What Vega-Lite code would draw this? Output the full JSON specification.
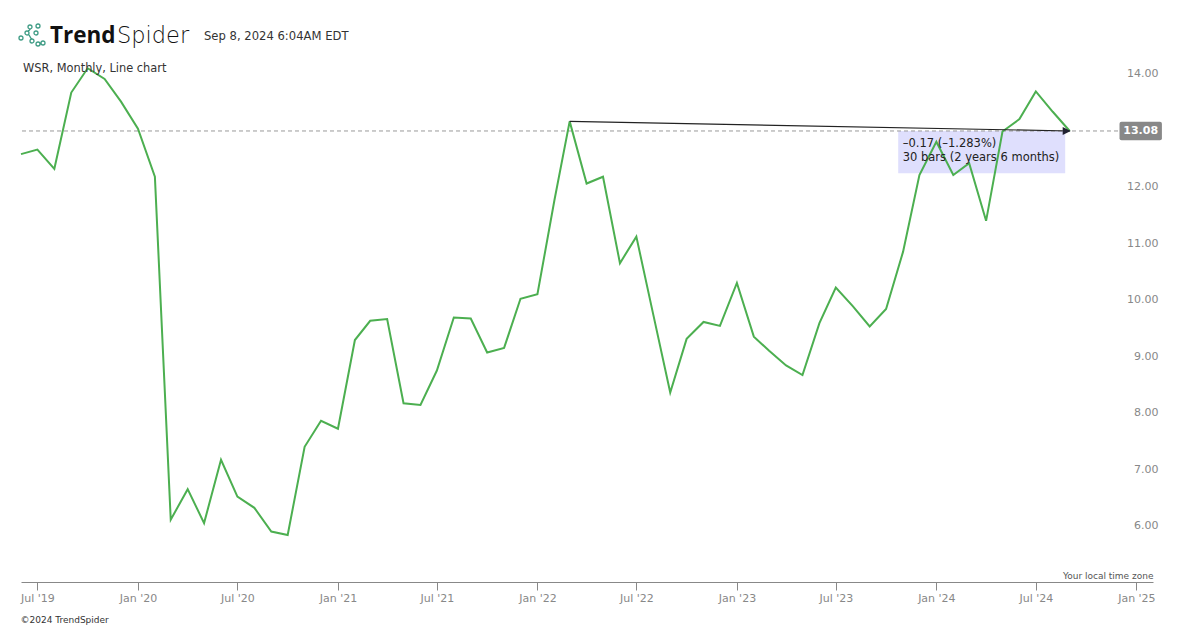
{
  "$schema": "https://vega.github.io/schema/vega-lite/v6.json",
  "width": 1132,
  "height": 582,
  "autosize": {"type": "none"},
  "padding": {"left": 21, "top": 0, "right": 30, "bottom": 47},
  "background": "white",
  "config": {"view": {"stroke": null}, "font": "DejaVu Sans"},
  "datasets": {
    "wsr": [
      {"date": "2019-06-01", "price": 12.67},
      {"date": "2019-07-01", "price": 12.75},
      {"date": "2019-08-01", "price": 12.41},
      {"date": "2019-09-01", "price": 13.76},
      {"date": "2019-10-01", "price": 14.19},
      {"date": "2019-11-01", "price": 14.00},
      {"date": "2019-12-01", "price": 13.60},
      {"date": "2020-01-01", "price": 13.12},
      {"date": "2020-02-01", "price": 12.27},
      {"date": "2020-03-01", "price": 6.20},
      {"date": "2020-04-01", "price": 6.74},
      {"date": "2020-05-01", "price": 6.14},
      {"date": "2020-06-01", "price": 7.26},
      {"date": "2020-07-01", "price": 6.61},
      {"date": "2020-08-01", "price": 6.41},
      {"date": "2020-09-01", "price": 5.99},
      {"date": "2020-10-01", "price": 5.93},
      {"date": "2020-11-01", "price": 7.49},
      {"date": "2020-12-01", "price": 7.95},
      {"date": "2021-01-01", "price": 7.81},
      {"date": "2021-02-01", "price": 9.38},
      {"date": "2021-03-01", "price": 9.72},
      {"date": "2021-04-01", "price": 9.75},
      {"date": "2021-05-01", "price": 8.26},
      {"date": "2021-06-01", "price": 8.23},
      {"date": "2021-07-01", "price": 8.84},
      {"date": "2021-08-01", "price": 9.78},
      {"date": "2021-09-01", "price": 9.76},
      {"date": "2021-10-01", "price": 9.16},
      {"date": "2021-11-01", "price": 9.24},
      {"date": "2021-12-01", "price": 10.11},
      {"date": "2022-01-01", "price": 10.19},
      {"date": "2022-02-01", "price": 11.85},
      {"date": "2022-03-01", "price": 13.25},
      {"date": "2022-04-01", "price": 12.15},
      {"date": "2022-05-01", "price": 12.27},
      {"date": "2022-06-01", "price": 10.74},
      {"date": "2022-07-01", "price": 11.21},
      {"date": "2022-08-01", "price": 9.83},
      {"date": "2022-09-01", "price": 8.45},
      {"date": "2022-10-01", "price": 9.40},
      {"date": "2022-11-01", "price": 9.70},
      {"date": "2022-12-01", "price": 9.63},
      {"date": "2023-01-01", "price": 10.39},
      {"date": "2023-02-01", "price": 9.44},
      {"date": "2023-03-01", "price": 9.19},
      {"date": "2023-04-01", "price": 8.93},
      {"date": "2023-05-01", "price": 8.76},
      {"date": "2023-06-01", "price": 9.68},
      {"date": "2023-07-01", "price": 10.31},
      {"date": "2023-08-01", "price": 9.98},
      {"date": "2023-09-01", "price": 9.62},
      {"date": "2023-10-01", "price": 9.93},
      {"date": "2023-11-01", "price": 10.94},
      {"date": "2023-12-01", "price": 12.30},
      {"date": "2024-01-01", "price": 12.89},
      {"date": "2024-02-01", "price": 12.30},
      {"date": "2024-03-01", "price": 12.51},
      {"date": "2024-04-01", "price": 11.49},
      {"date": "2024-05-01", "price": 13.07},
      {"date": "2024-06-01", "price": 13.29},
      {"date": "2024-07-01", "price": 13.78},
      {"date": "2024-08-01", "price": 13.42},
      {"date": "2024-09-01", "price": 13.08}
    ],
    "measure": [
      {"date": "2022-03-01", "price": 13.25},
      {"date": "2024-09-01", "price": 13.08}
    ],
    "last": [
      {"date": "2024-09-01", "price": 13.08, "label": "13.08", "change": "–0.17 (–1.283%)", "span": "30 bars (2 years 6 months)"}
    ],
    "header": [
      {"date": "2019-06-01", "logo": "Trend", "logo2": "Spider", "stamp": "Sep 8, 2024 6:04AM EDT", "caption": "WSR, Monthly, Line chart"}
    ]
  },
  "layer": [
    {
      "data": {"name": "last"},
      "mark": {"type": "point", "filled": true, "opacity": 1, "strokeWidth": 0, "color": "#dfdffd", "shape": "M-1,-0.2533H1V0.2533H-1Z", "size": 27889, "xOffset": -88, "yOffset": 21.1},
      "encoding": {
        "x": {"field": "date", "type": "temporal", "scale": {"type": "utc", "domain": [1559347200000, 1738317600000], "nice": false}},
        "y": {"field": "price", "type": "quantitative", "scale": {"domain": [5.0973, 15.3982], "nice": false, "zero": false}}
      }
    },
    {
      "data": {"name": "last"},
      "mark": {"type": "rule", "color": "#9a9a9a", "strokeWidth": 1, "strokeDash": [4, 3]},
      "encoding": {
        "y": {"field": "price", "type": "quantitative", "scale": {"domain": [5.0973, 15.3982], "nice": false, "zero": false}}
      }
    },
    {
      "data": {"name": "wsr"},
      "mark": {"type": "line", "color": "#4caf50", "strokeWidth": 2, "strokeJoin": "miter"},
      "encoding": {
        "x": {
          "field": "date", "type": "temporal",
          "scale": {"type": "utc", "domain": [1559347200000, 1738317600000], "nice": false},
          "axis": {
            "values": [1561939200000, 1577836800000, 1593561600000, 1609459200000, 1625097600000, 1640995200000, 1656633600000, 1672531200000, 1688169600000, 1704067200000, 1719792000000, 1735689600000],
            "format": "%b '%y",
            "grid": false,
            "domainColor": "#888888", "domainWidth": 1,
            "tickColor": "#888888", "tickSize": 8, "tickWidth": 1,
            "labelColor": "#888888", "labelFontSize": 11, "labelFont": "DejaVu Sans", "labelPadding": 2,
            "labelFlush": false, "labelOverlap": false,
            "title": "©2024 TrendSpider", "titleFontSize": 9, "titleFontWeight": "normal", "titleColor": "#333333", "titleFont": "DejaVu Sans",
            "titleAnchor": "start", "titleAlign": "left", "titleBaseline": "middle", "titleX": -1, "titleY": 37
          }
        },
        "y": {
          "field": "price", "type": "quantitative",
          "scale": {"domain": [5.0973, 15.3982], "nice": false, "zero": false},
          "axis": {
            "orient": "right",
            "values": [6, 7, 8, 9, 10, 11, 12, 14],
            "format": ".2f",
            "grid": false, "domain": false, "ticks": false, "tickSize": 0,
            "labelAlign": "right", "labelBaseline": "middle", "labelPadding": 5, "labelOffset": -5,
            "labelColor": "#888888", "labelFontSize": 11, "labelFont": "DejaVu Sans",
            "title": "Your local time zone", "titleAngle": 0, "titleAlign": "right", "titleBaseline": "middle",
            "titleX": 0, "titleY": 575, "titleFontSize": 9, "titleFontWeight": "normal", "titleColor": "#555555", "titleFont": "DejaVu Sans"
          }
        }
      }
    },
    {
      "data": {"name": "measure"},
      "mark": {"type": "line", "color": "#222222", "strokeWidth": 1.2},
      "encoding": {
        "x": {"field": "date", "type": "temporal", "scale": {"type": "utc", "domain": [1559347200000, 1738317600000], "nice": false}},
        "y": {"field": "price", "type": "quantitative", "scale": {"domain": [5.0973, 15.3982], "nice": false, "zero": false}}
      }
    },
    {
      "data": {"name": "last"},
      "mark": {"type": "point", "filled": true, "opacity": 1, "strokeWidth": 0, "color": "#222233", "shape": "M-1,-1L1,0L-1,1Z", "size": 64, "xOffset": -3},
      "encoding": {
        "x": {"field": "date", "type": "temporal", "scale": {"type": "utc", "domain": [1559347200000, 1738317600000], "nice": false}},
        "y": {"field": "price", "type": "quantitative", "scale": {"domain": [5.0973, 15.3982], "nice": false, "zero": false}}
      }
    },
    {
      "data": {"name": "last"},
      "mark": {"type": "point", "filled": true, "opacity": 1, "strokeWidth": 0, "color": "#888888", "shape": "M-0.906,-0.432H0.906Q1,-0.432 1,-0.338V0.338Q1,0.432 0.906,0.432H-0.906Q-1,0.432 -1,0.338V-0.338Q-1,-0.432 -0.906,-0.432Z", "size": 1798, "xOffset": 71},
      "encoding": {
        "x": {"field": "date", "type": "temporal", "scale": {"type": "utc", "domain": [1559347200000, 1738317600000], "nice": false}},
        "y": {"field": "price", "type": "quantitative", "scale": {"domain": [5.0973, 15.3982], "nice": false, "zero": false}}
      }
    },
    {
      "data": {"name": "last"},
      "mark": {"type": "text", "color": "white", "fontWeight": "bold", "fontSize": 11, "font": "DejaVu Sans", "align": "center", "baseline": "middle", "dx": 71, "dy": 0.5},
      "encoding": {
        "x": {"field": "date", "type": "temporal", "scale": {"type": "utc", "domain": [1559347200000, 1738317600000], "nice": false}},
        "y": {"field": "price", "type": "quantitative", "scale": {"domain": [5.0973, 15.3982], "nice": false, "zero": false}},
        "text": {"field": "label"}
      }
    },
    {
      "data": {"name": "last"},
      "mark": {"type": "text", "color": "#222222", "fontSize": 11.5, "font": "DejaVu Sans", "align": "left", "baseline": "middle", "dx": -167, "dy": 13},
      "encoding": {
        "x": {"field": "date", "type": "temporal", "scale": {"type": "utc", "domain": [1559347200000, 1738317600000], "nice": false}},
        "y": {"field": "price", "type": "quantitative", "scale": {"domain": [5.0973, 15.3982], "nice": false, "zero": false}},
        "text": {"field": "change"}
      }
    },
    {
      "data": {"name": "last"},
      "mark": {"type": "text", "color": "#222222", "fontSize": 11.5, "font": "DejaVu Sans", "align": "left", "baseline": "middle", "dx": -167, "dy": 27.3},
      "encoding": {
        "x": {"field": "date", "type": "temporal", "scale": {"type": "utc", "domain": [1559347200000, 1738317600000], "nice": false}},
        "y": {"field": "price", "type": "quantitative", "scale": {"domain": [5.0973, 15.3982], "nice": false, "zero": false}},
        "text": {"field": "span"}
      }
    },
    {
      "data": {"name": "header"},
      "mark": {"type": "point", "filled": false, "opacity": 1, "strokeWidth": 1.3, "color": "#3f9c85", "shape": "M-1.084,0.25a0.167,0.167 0 1,0 0.334,0a0.167,0.167 0 1,0 -0.334,0M-0.584,-0.167a0.167,0.167 0 1,0 0.334,0a0.167,0.167 0 1,0 -0.334,0M-0.334,-0.667a0.167,0.167 0 1,0 0.334,0a0.167,0.167 0 1,0 -0.334,0M0.333,-0.75a0.167,0.167 0 1,0 0.334,0a0.167,0.167 0 1,0 -0.334,0M0.166,-0.167a0.167,0.167 0 1,0 0.334,0a0.167,0.167 0 1,0 -0.334,0M-0.167,0.5a0.167,0.167 0 1,0 0.334,0a0.167,0.167 0 1,0 -0.334,0M0.333,0.75a0.167,0.167 0 1,0 0.334,0a0.167,0.167 0 1,0 -0.334,0M0.75,0.667a0.167,0.167 0 1,0 0.334,0a0.167,0.167 0 1,0 -0.334,0M-0.3,-0.1L-0.05,0.35M-0.15,-0.5L-0.3,-0.3", "size": 576, "xOffset": 11, "yOffset": -8.3},
      "encoding": {
        "x": {"field": "date", "type": "temporal", "scale": {"type": "utc", "domain": [1559347200000, 1738317600000], "nice": false}},
        "y": {"datum": 14.632, "type": "quantitative", "scale": {"domain": [5.0973, 15.3982], "nice": false, "zero": false}}
      }
    },
    {
      "data": {"name": "header"},
      "mark": {"type": "text", "color": "#111111", "fontSize": 22.5, "font": "Open Sans", "fontWeight": "bold", "align": "left", "baseline": "alphabetic", "dx": 29},
      "encoding": {
        "x": {"field": "date", "type": "temporal", "scale": {"type": "utc", "domain": [1559347200000, 1738317600000], "nice": false}},
        "y": {"datum": 14.632, "type": "quantitative", "scale": {"domain": [5.0973, 15.3982], "nice": false, "zero": false}},
        "text": {"field": "logo"}
      }
    },
    {
      "data": {"name": "header"},
      "mark": {"type": "text", "color": "#111111", "fontSize": 22.5, "font": "DejaVu Sans", "fontWeight": 200, "align": "left", "baseline": "alphabetic", "dx": 96},
      "encoding": {
        "x": {"field": "date", "type": "temporal", "scale": {"type": "utc", "domain": [1559347200000, 1738317600000], "nice": false}},
        "y": {"datum": 14.632, "type": "quantitative", "scale": {"domain": [5.0973, 15.3982], "nice": false, "zero": false}},
        "text": {"field": "logo2"}
      }
    },
    {
      "data": {"name": "header"},
      "mark": {"type": "text", "color": "#333333", "fontSize": 11.6, "font": "DejaVu Sans", "align": "left", "baseline": "alphabetic", "dx": 183},
      "encoding": {
        "x": {"field": "date", "type": "temporal", "scale": {"type": "utc", "domain": [1559347200000, 1738317600000], "nice": false}},
        "y": {"datum": 14.69, "type": "quantitative", "scale": {"domain": [5.0973, 15.3982], "nice": false, "zero": false}},
        "text": {"field": "stamp"}
      }
    },
    {
      "data": {"name": "header"},
      "mark": {"type": "text", "color": "#333333", "fontSize": 11.4, "font": "DejaVu Sans", "align": "left", "baseline": "alphabetic", "dx": 2},
      "encoding": {
        "x": {"field": "date", "type": "temporal", "scale": {"type": "utc", "domain": [1559347200000, 1738317600000], "nice": false}},
        "y": {"datum": 14.119, "type": "quantitative", "scale": {"domain": [5.0973, 15.3982], "nice": false, "zero": false}},
        "text": {"field": "caption"}
      }
    }
  ]
}
